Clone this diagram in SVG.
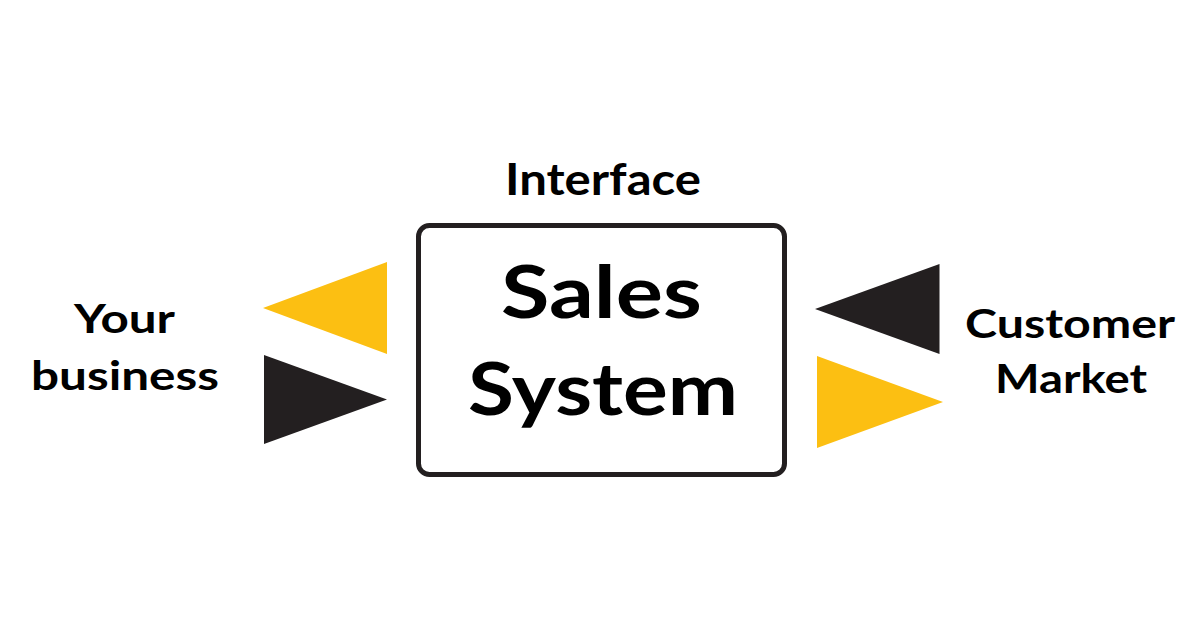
<svg xmlns="http://www.w3.org/2000/svg" width="1200" height="630" viewBox="0 0 1200 630">
<style>
.t{font-family:Lato,"Liberation Sans",sans-serif;font-weight:700;fill:#000;text-anchor:middle}
.y{fill:#FCBF12}
.k{fill:#231F20}
</style>
<rect width="1200" height="630" fill="#fff"/>
<g id="connectors">
<polygon class="y" points="263,308 387,262 387,354"/>
<polygon class="k" points="264,355 387,399.5 264,444"/>
<polygon class="k" points="815,309 939.5,264 939.5,354"/>
<polygon class="y" points="817,356 943,402 817,448"/>
</g>
<g id="interface-label"><text class="t" x="603" y="195" font-size="44" textLength="196" lengthAdjust="spacingAndGlyphs">Interface</text></g>
<g id="sales-system">
<rect x="418.5" y="225.5" width="366" height="249" rx="11" fill="#fff" stroke="#231F20" stroke-width="5"/>
<text class="t" x="601.5" y="318" font-size="72" textLength="201" lengthAdjust="spacingAndGlyphs">Sales</text>
<text class="t" x="603" y="415" font-size="72" textLength="270" lengthAdjust="spacingAndGlyphs">System</text>
</g>
<g id="your-business">
<text class="t" x="124.5" y="333" font-size="40" textLength="101" lengthAdjust="spacingAndGlyphs">Your</text>
<text class="t" x="125" y="390" font-size="40" textLength="188" lengthAdjust="spacingAndGlyphs">business</text>
</g>
<g id="customer-market">
<text class="t" x="1070" y="338" font-size="40" textLength="210" lengthAdjust="spacingAndGlyphs">Customer</text>
<text class="t" x="1071" y="393" font-size="40" textLength="152" lengthAdjust="spacingAndGlyphs">Market</text>
</g>
</svg>
